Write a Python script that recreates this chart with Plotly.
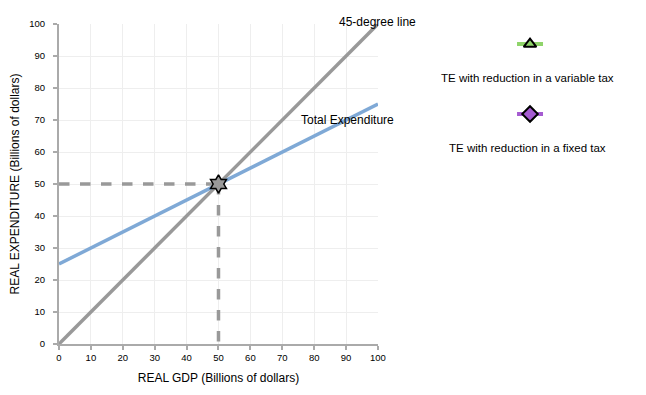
import plotly.graph_objects as go

# Data
gdp_45 = [0, 100]
exp_45 = [0, 100]
gdp_te = [0, 100]
exp_te = [25, 75]
eq_x = [50]
eq_y = [50]
dash_h_x = [0, 50]
dash_h_y = [50, 50]
dash_v_x = [50, 50]
dash_v_y = [50, 0]
tick_vals = list(range(0, 101, 10))
legend_names = ["TE with reduction in a variable tax", "TE with reduction in a fixed tax"]

FONT = "Liberation Sans, Arial, sans-serif"
GREY = "#999999"
BLUE = "#7fa9d6"

fig = go.Figure()

fig.add_trace(go.Scatter(x=dash_h_x, y=dash_h_y, mode="lines",
                         line=dict(color=GREY, width=3.5, dash="dash"), showlegend=False, hoverinfo="skip"))
fig.add_trace(go.Scatter(x=dash_v_x, y=dash_v_y, mode="lines",
                         line=dict(color=GREY, width=3.5, dash="dash"), showlegend=False, hoverinfo="skip"))
fig.add_trace(go.Scatter(x=gdp_45, y=exp_45, mode="lines",
                         line=dict(color=GREY, width=3.5), showlegend=False))
fig.add_trace(go.Scatter(x=gdp_te, y=exp_te, mode="lines",
                         line=dict(color=BLUE, width=3.5), showlegend=False))
fig.add_trace(go.Scatter(x=eq_x, y=eq_y, mode="markers",
                         marker=dict(symbol="hexagram", size=14, color=GREY,
                                     line=dict(color="black", width=1.5)),
                         showlegend=False))

# Legend-like items on a hidden axis
fig.add_trace(go.Scatter(x=[-0.5, 0.5], y=[1, 1], mode="lines", xaxis="x2", yaxis="y2",
                         line=dict(color="#8fd46a", width=4), showlegend=False, hoverinfo="skip"))
fig.add_trace(go.Scatter(x=[0], y=[1], mode="markers", xaxis="x2", yaxis="y2",
                         marker=dict(symbol="triangle-up", size=11, color="#8fd46a",
                                     line=dict(color="black", width=2)),
                         showlegend=False, name=legend_names[0]))
fig.add_trace(go.Scatter(x=[-0.5, 0.5], y=[0, 0], mode="lines", xaxis="x2", yaxis="y2",
                         line=dict(color="#a55bd1", width=4), showlegend=False, hoverinfo="skip"))
fig.add_trace(go.Scatter(x=[0], y=[0], mode="markers", xaxis="x2", yaxis="y2",
                         marker=dict(symbol="diamond", size=12, color="#a55bd1",
                                     line=dict(color="black", width=2)),
                         showlegend=False, name=legend_names[1]))

fig.update_layout(
    width=646, height=395,
    margin=dict(l=51, r=2, t=16, b=59, autoexpand=False),
    paper_bgcolor="white", plot_bgcolor="white",
    font=dict(family=FONT, color="black", size=9),
    xaxis=dict(range=[0, 100], tickvals=tick_vals, showgrid=True, gridcolor="#eeeeee", gridwidth=1,
               showline=True, linecolor="#aaaaaa", linewidth=2, ticks="outside", ticklen=4,
               tickcolor="#aaaaaa", tickwidth=2, zeroline=False, automargin=False,
               title=dict(text="REAL GDP (Billions of dollars)", font=dict(size=12), standoff=11),
               tickfont=dict(size=9.5), domain=[0, 0.5379]),
    yaxis=dict(range=[0, 100], tickvals=tick_vals, showgrid=True, gridcolor="#eeeeee", gridwidth=1,
               showline=True, linecolor="#aaaaaa", linewidth=2, ticks="outside", ticklen=4,
               tickcolor="#aaaaaa", tickwidth=2, zeroline=False, automargin=False,
               ticklabelstandoff=6,
               title=dict(text="REAL EXPENDITURE (Billions of dollars)", font=dict(size=12), standoff=12),
               tickfont=dict(size=9.5)),
    xaxis2=dict(domain=[0.7395, 0.8491], range=[-1.25, 1.25], visible=False, anchor="y2"),
    yaxis2=dict(domain=[0.686, 0.970], range=[-0.15, 1.15], visible=False, anchor="x2"),
    showlegend=False,
)

fig.add_annotation(x=100, y=100, text="45-degree line", showarrow=False, xref="x", yref="y",
                   font=dict(size=12), xanchor="center", yanchor="middle", yshift=2)
fig.add_annotation(x=90.3, y=70, text="Total Expenditure", showarrow=False, xref="x", yref="y",
                   font=dict(size=12), xanchor="center", yanchor="middle")
fig.add_annotation(x=0, y=1, text=legend_names[0], showarrow=False, xref="x2", yref="y2",
                   font=dict(size=11.5), xanchor="center", yanchor="middle", yshift=-34, xshift=-3)
fig.add_annotation(x=0, y=0, text=legend_names[1], showarrow=False, xref="x2", yref="y2",
                   font=dict(size=11.5), xanchor="center", yanchor="middle", yshift=-34, xshift=-3)

fig.write_html("out.html")
